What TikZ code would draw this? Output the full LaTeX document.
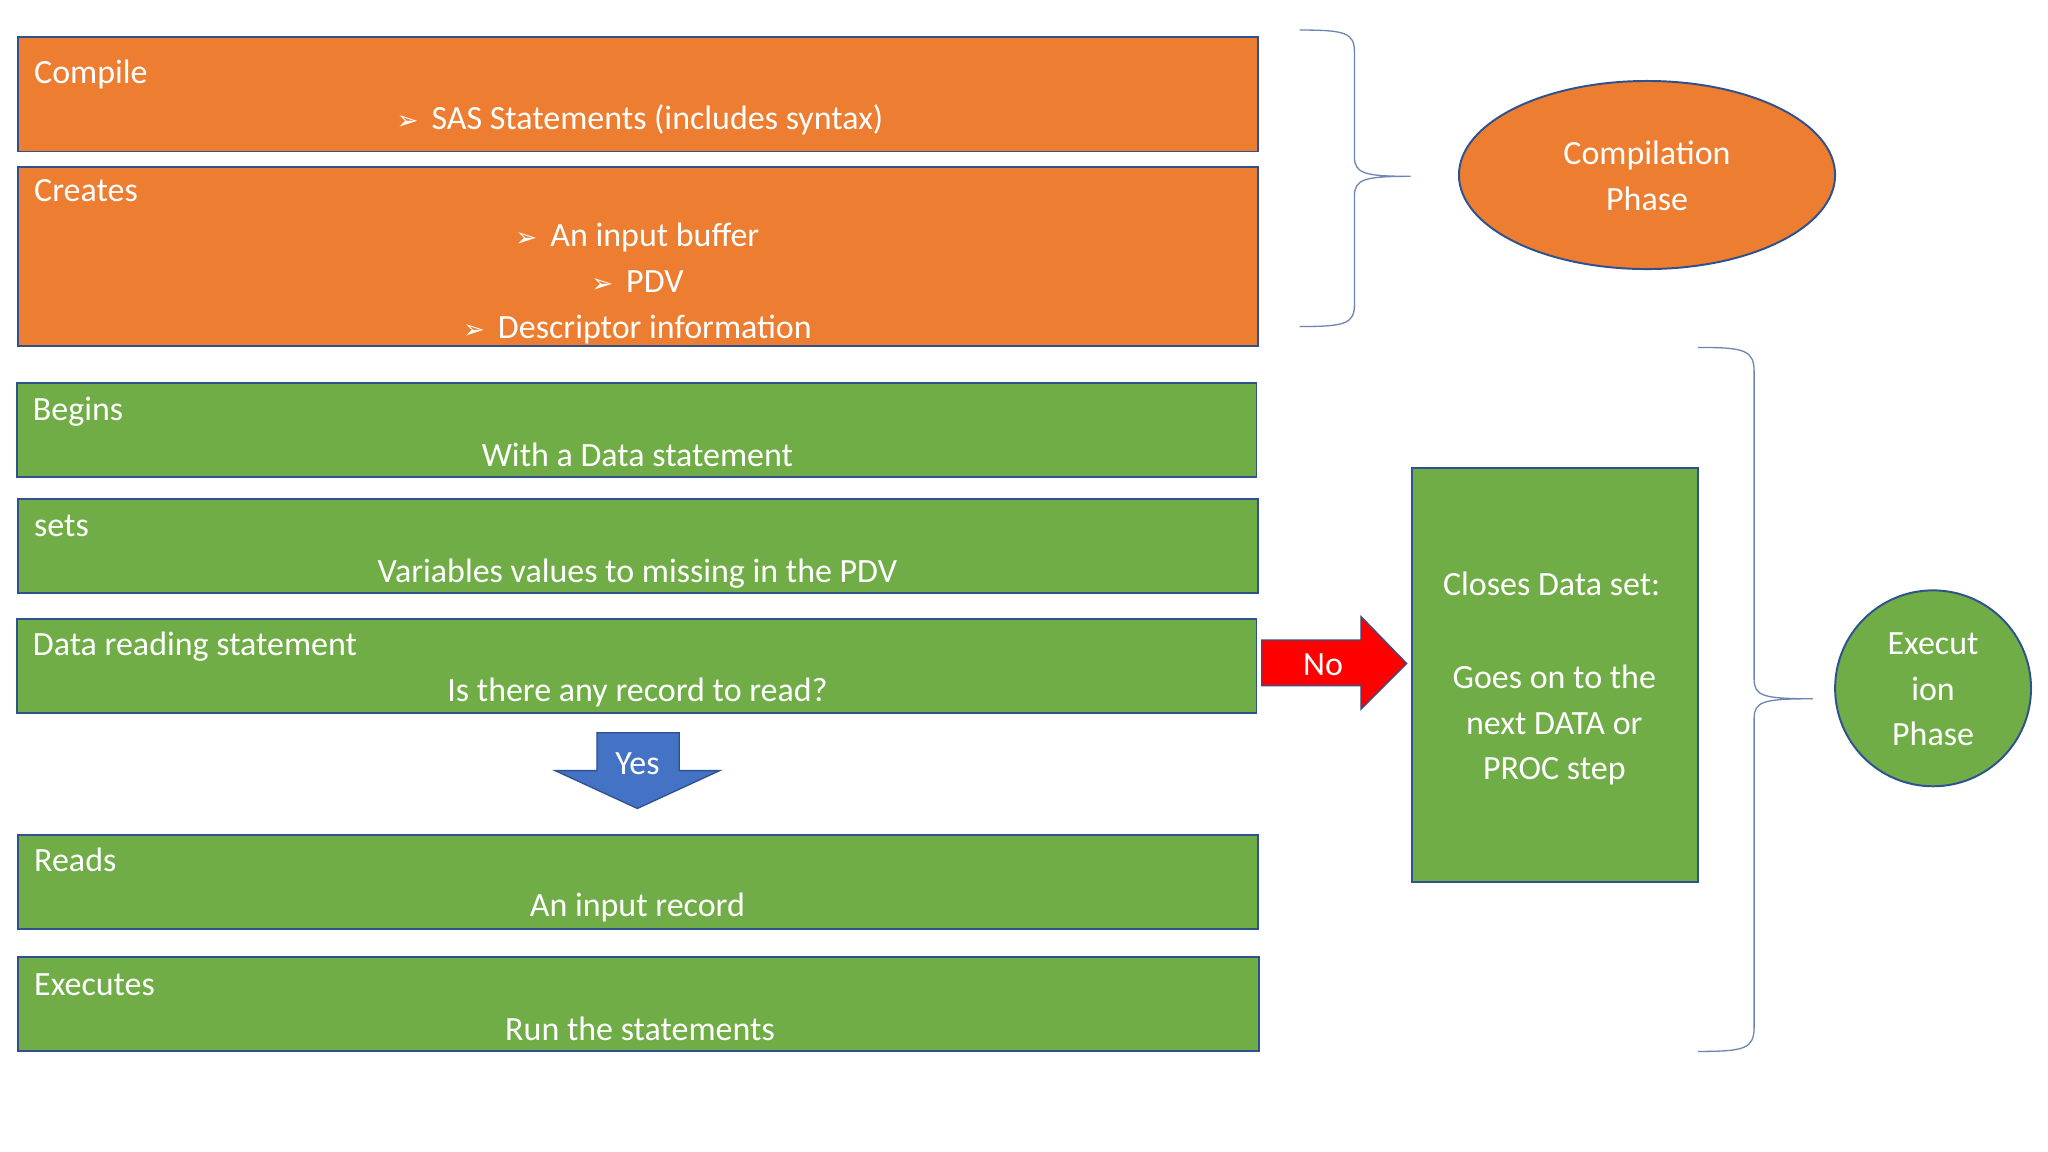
\documentclass[tikz,border=0pt]{standalone}
\usepackage{fontspec}
\setmainfont{Carlito}
\newfontfamily\dvs{DejaVu Sans}
\begin{document}
\begin{tikzpicture}[x=1pt,y=-1pt,
  box/.style={draw=bord,line width=1.5pt},
  org/.style={box,fill=orng},
  grn/.style={box,fill=gren},
  txt/.style={text=white,font=\fontsize{26}{30}\selectfont,inner sep=0pt,anchor=base west},
  ctx/.style={text=white,font=\fontsize{26}{30}\selectfont,inner sep=0pt,anchor=base},
  brc/.style={draw=bord!70,line width=1pt}]
\definecolor{orng}{HTML}{ED7D31}
\definecolor{gren}{HTML}{70AD47}
\definecolor{bord}{HTML}{2F528F}
\definecolor{blu}{HTML}{4472C4}
\newcommand{\bul}{{\dvs\fontsize{20}{20}\selectfont ➢}\hspace{10pt}}
\useasboundingbox[fill=white] (0,0) rectangle (1568,882);
% orange boxes
\draw[org] (14,28) rectangle (963,116);
\node[txt] (t1) at (26,64) {Compile};
\node[ctx] (t1b) at (490,99) {\bul SAS Statements (includes syntax)};
\draw[org] (14,128) rectangle (963,265);
\node[txt] (t2) at (26,154) {Creates};
\node[ctx] (t2a) at (488,189) {\bul An input buffer};
\node[ctx] (t2b) at (488,224) {\bul PDV};
\node[ctx] (t2c) at (488,259) {\bul Descriptor information};
% green boxes
\draw[grn] (13,293) rectangle (962,365);
\node[txt] (g1) at (25,322) {Begins};
\node[ctx] (g1b) at (488,357) {With a Data statement};
\draw[grn] (14,382) rectangle (963,454);
\node[txt] (g2) at (26,411) {sets};
\node[ctx] (g2b) at (488,446) {Variables values to missing in the PDV};
\draw[grn] (13,474) rectangle (962,546);
\node[txt] (g3) at (25,502) {Data reading statement};
\node[ctx] (g3b) at (488,537) {Is there any record to read?};
\draw[grn] (14,639) rectangle (963,711);
\node[txt] (g4) at (26,667) {Reads};
\node[ctx] (g4b) at (488,702) {An input record};
\draw[grn] (14,733) rectangle (964,805);
\node[txt] (g5) at (26,762) {Executes};
\node[ctx] (g5b) at (490,797) {Run the statements};
% yes arrow
\draw[draw=bord,fill=blu,line width=1pt] (457,561) -- (520,561) -- (520,590) -- (551,590) -- (488,619) -- (425,590) -- (457,590) -- cycle;
\node[ctx] (yes) at (488,593) {Yes};
% no arrow
\draw[draw=bord,fill=red,line width=1pt] (966,490) -- (1042,490) -- (1042,472) -- (1077,508) -- (1042,543) -- (1042,525) -- (966,525) -- cycle;
\node[ctx] (no) at (1013,517) {No};
% closes box
\draw[grn] (1081,358) rectangle (1300,675);
\node[ctx] (c1) at (1188,456) {Closes Data set:};
\node[ctx] (c2) at (1190,527) {Goes on to the};
\node[ctx] (c3) at (1190,562) {next DATA or};
\node[ctx] (c4) at (1190,597) {PROC step};
% ellipse
\draw[draw=bord,fill=orng,line width=1.5pt] (1261,134) ellipse [x radius=144,y radius=72];
\node[ctx] (e1) at (1261,126) {Compilation};
\node[ctx] (e2) at (1261,161) {Phase};
% circle
\draw[draw=bord,fill=gren,line width=1.5pt] (1480,527) circle (75);
\node[ctx] (x1) at (1480,501) {Execut};
\node[ctx] (x2) at (1480,536) {ion};
\node[ctx] (x3) at (1480,571) {Phase};
% braces
\draw[brc] (995,23) .. controls (1030,23) and (1037,25) .. (1037,40) -- (1037,120) .. controls (1037,133) and (1045,135) .. (1080,135)
  .. controls (1045,135) and (1037,137) .. (1037,150) -- (1037,233) .. controls (1037,248) and (1030,250) .. (995,250);
\draw[brc] (1300,266) .. controls (1336,266) and (1343,268) .. (1343,285) -- (1343,520) .. controls (1343,533) and (1350,535) .. (1388,535)
  .. controls (1350,535) and (1343,537) .. (1343,550) -- (1343,786) .. controls (1343,803) and (1336,805) .. (1300,805);
\end{tikzpicture}
\end{document}
